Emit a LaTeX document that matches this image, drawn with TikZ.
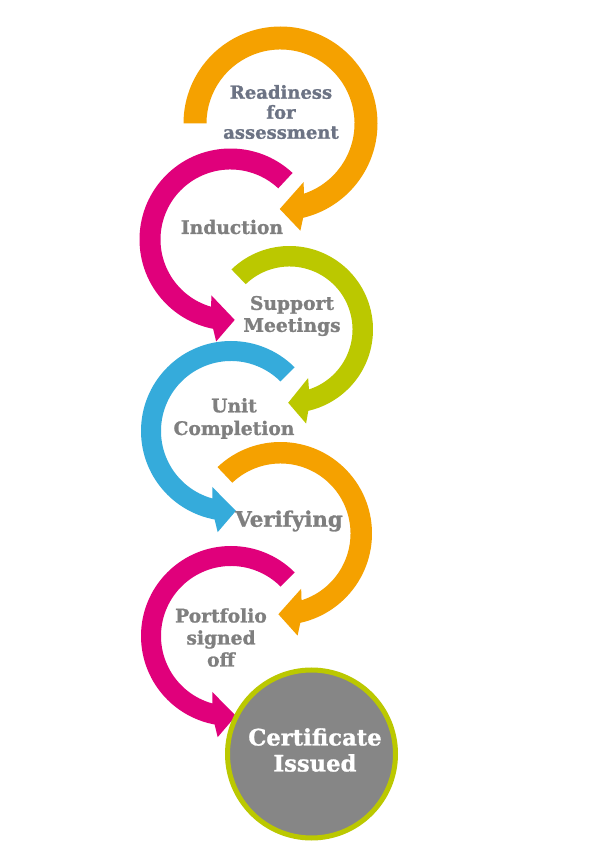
\documentclass[tikz,border=0pt]{standalone}
\usepackage{fontspec}
\setmainfont{DejaVu Serif}[BoldFeatures={FakeBold=1.2}]
\usetikzlibrary{calc}
\definecolor{corange}{HTML}{F5A100}
\definecolor{cpink}{HTML}{E0007B}
\definecolor{cgreen}{HTML}{BBC800}
\definecolor{cblue}{HTML}{35ABDB}
\definecolor{cgrayfill}{HTML}{868686}
\definecolor{ctext}{HTML}{7F7F7F}
\definecolor{cslate}{HTML}{6C7384}
% #1 colour, #2 #3 centre, #4 outer radius, #5 inner radius, #6 start angle, #7 head base angle, #8 direction (+1 ccw, -1 cw)
\newcommand{\circarrow}[8]{%
 \pgfmathsetmacro\caRmid{(#4+#5)/2}%
 \pgfmathsetmacro\caRwo{#4+12}%
 \pgfmathsetmacro\caRwi{#5-11}%
 \pgfmathsetmacro\caAwi{#7-6*(#8)}%
 \pgfmathsetmacro\caAbi{#7-3*(#8)}%
 \pgfmathsetmacro\caAbo{#7+2*(#8)}%
 \pgfmathsetmacro\caAwo{#7+5*(#8)}%
 \pgfmathsetmacro\caAtip{#7+16*(#8)}%
 \fill[#1] ($(#2,#3)+(#6:#4)$) arc[start angle=#6, end angle=\caAbo, radius=#4]
   -- ($(#2,#3)+(\caAwo:\caRwo)$) -- ($(#2,#3)+(\caAtip:\caRmid)$)
   -- ($(#2,#3)+(\caAwi:\caRwi)$) -- ($(#2,#3)+(\caAbi:#5)$)
   arc[start angle=\caAbi, end angle=#6, radius=#5] -- cycle;}
\tikzset{
  lbl/.style={align=center, text=ctext, font=\bfseries\fontsize{14pt}{16.5pt}\selectfont, inner sep=0pt},
}
\begin{document}
\begin{tikzpicture}[x=0.75pt,y=0.75pt]
\path[use as bounding box, fill=white] (0,0) rectangle (590,865);
\circarrow{corange}{280.5}{741.5}{97}{74}{180}{-74.5}{-1}
\circarrow{cpink}{230.5}{625.5}{91}{70}{47}{257}{1}
\circarrow{cgreen}{289.5}{535.5}{83.5}{63}{134}{-75}{-1}
\circarrow{cblue}{231}{434}{90}{70}{45}{257.5}{1}
\circarrow{corange}{280.5}{331.5}{91.5}{70}{133.5}{-75.5}{-1}
\circarrow{cpink}{231}{229}{90}{70}{45}{257.5}{1}
\node[circle, draw=cgreen, line width=3.75pt, fill=cgrayfill, minimum size=126pt, inner sep=0pt] (cert) at (311.5,111) {};
\node[lbl, text=cslate, font=\bfseries\fontsize{13.5pt}{15pt}\selectfont] (ready) at (281,753) {Readiness\\for\\assessment};
\node[lbl] (induct) at (232,638) {Induction};
\node[lbl] (support) at (292,549) {Support\\Meetings};
\node[lbl, font=\bfseries\fontsize{14pt}{17pt}\selectfont] (unit) at (234,446.5) {Unit\\Completion};
\node[lbl, font=\bfseries\fontsize{16pt}{18pt}\selectfont] (verify) at (289,344) {Verifying};
\node[lbl] (portf) at (221,227.5) {Portfolio\\signed\\off};
\node[lbl, text=white, font=\bfseries\fontsize{17pt}{19.5pt}\selectfont] (certtext) at (315,115) {Certificate\\Issued};
\end{tikzpicture}
\end{document}
